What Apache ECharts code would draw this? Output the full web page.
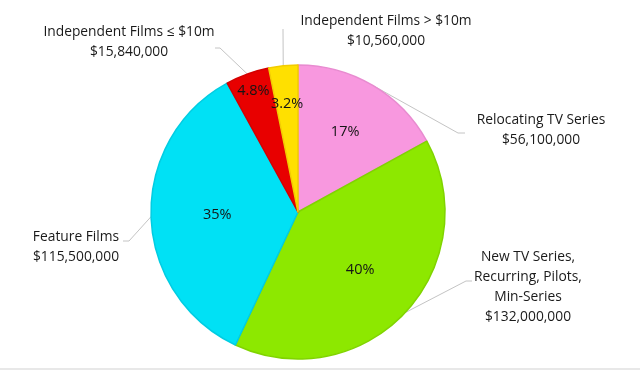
<!DOCTYPE html>
<html><head><meta charset="utf-8">
<script src="https://cdn.jsdelivr.net/npm/echarts@6/dist/echarts.min.js"></script>
<style>
html,body{margin:0;padding:0;background:#fff;overflow:hidden}
#c{width:640px;height:372px;position:absolute;left:0;top:0}
#rule{position:absolute;left:0;top:368px;width:640px;height:2px;background:#e8e8e8}
</style>
</head><body><div id="c"></div><div id="rule"></div>
<script>
const categories = [
  'Relocating TV Series',
  'New TV Series,\nRecurring, Pilots,\nMin-Series',
  'Feature Films',
  'Independent Films \u2264 $10m',
  'Independent Films > $10m'
];
const values = [56100000, 132000000, 115500000, 15840000, 10560000];
const colors = ['#F898DF', '#8DE800', '#00E1F5', '#E80000', '#FFE000'];
const borderColors = ['#E88BD0', '#80D400', '#00CDE2', '#D40000', '#F2CC00'];

// layout (pixels)
const CX = 298, CY = 212, R = 147;
const innerFactor = [0.63, 0.58, 0.55, 0.88, 0.74];
const outerLayout = [
  { x: 541, y: 130, elbow: [458, 133], end: [465, 133] },
  { x: 528, y: 287, elbow: [466, 281], end: [472, 281] },
  { x: 76,  y: 247, elbow: [129, 241], end: [123, 241] },
  { x: 129, y: 42,  elbow: [220, 48],  end: [215, 48] },
  { x: 386, y: 31,  elbow: [283, 30],  end: [283, 29] }
];

const total = values.reduce((a, b) => a + b, 0);
const midAngles = [];
let acc = 0;
values.forEach(v => { midAngles.push((acc + v / 2) / total * 2 * Math.PI); acc += v; });

function pct(v) { return (Math.round(v / total * 1000) / 10) + '%'; }
function money(v) { return '$' + v.toLocaleString('en-US'); }

const data = categories.map((c, i) => ({
  name: c, value: values[i],
  itemStyle: { color: colors[i], borderColor: borderColors[i], borderWidth: 1.5 }
}));
const ghost = categories.map((c, i) => ({ name: c, value: values[i] }));

const FONT = '"Open Sans", Lato, sans-serif';
const chart = echarts.init(document.getElementById('c'), null, { renderer: 'canvas' });
chart.setOption({
  animation: false,
  backgroundColor: '#fff',
  series: [
    {
      type: 'pie', center: [CX, CY], radius: [0, R], startAngle: 90, clockwise: true,
      avoidLabelOverlap: false, data: data, z: 2,
      label: {
        show: true, position: 'inside', formatter: p => pct(p.value),
        fontFamily: FONT, fontSize: 14.5, color: '#151515'
      },
      labelLine: { show: false },
      emphasis: { disabled: true },
      labelLayout: p => {
        const a = midAngles[p.dataIndex], f = innerFactor[p.dataIndex] * R;
        return { x: CX + f * Math.sin(a), y: CY - f * Math.cos(a), align: 'center', verticalAlign: 'middle' };
      }
    },
    {
      type: 'pie', center: [CX, CY], radius: [0, R], startAngle: 90, clockwise: true,
      avoidLabelOverlap: false, data: ghost, silent: true, z: 1,
      itemStyle: { color: 'rgba(0,0,0,0)', borderWidth: 0 },
      label: {
        show: true, position: 'outside',
        formatter: p => p.name + '\n' + money(p.value),
        fontFamily: FONT, fontSize: 13.8, color: '#1a1a1a', lineHeight: 20, align: 'center'
      },
      labelLine: { show: true, lineStyle: { color: '#c4c4c4', width: 1 } },
      emphasis: { disabled: true },
      labelLayout: p => {
        const i = p.dataIndex, L = outerLayout[i], a = midAngles[i];
        const anchor = [CX + R * Math.sin(a), CY - R * Math.cos(a)];
        return {
          x: L.x, y: L.y, align: 'center', verticalAlign: 'middle',
          labelLinePoints: [anchor, L.elbow, L.end]
        };
      }
    }
  ]
});
</script>
</body></html>
